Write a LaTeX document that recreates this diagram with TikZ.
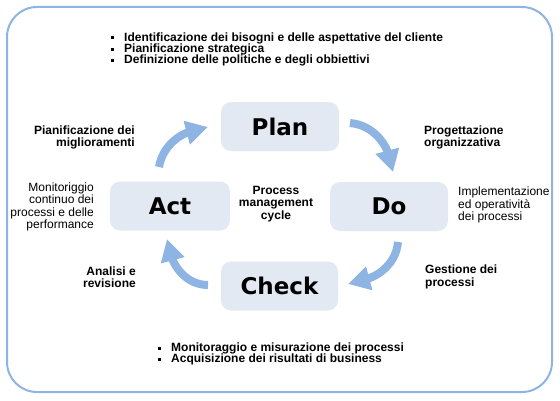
\documentclass[tikz,border=0pt]{standalone}
\usepackage{fontspec}
\setmainfont{Liberation Sans}
\newfontfamily\phasefont{DejaVu Sans}
\usetikzlibrary{arrows.meta}
\definecolor{cycleblue}{HTML}{8DB4E2}
\definecolor{phasefill}{HTML}{E3E9F3}

\begin{document}
\begin{tikzpicture}[x=1pt, y=1pt,
    phase/.style={fill=phasefill, rounded corners=10pt, minimum width=118pt, minimum height=49pt, inner sep=0pt,
        font=\phasefont\bfseries\fontsize{23}{23}\selectfont},
    bold note/.style={font=\bfseries\fontsize{12}{12.3}\selectfont, inner sep=0pt, text height=8.5pt, text depth=2.5pt},
    plain note/.style={font=\fontsize{12}{12.3}\selectfont, inner sep=0pt},
    loop arrow/.style={cycleblue, line width=8pt, -{Triangle[length=22pt, width=23pt]}},
    bullet/.style={fill=black, inner sep=0pt, minimum size=3pt}]
\useasboundingbox (0,0) rectangle (560,400);
% Draw frame
\draw[cycleblue, line width=2pt, rounded corners=30pt] (7,8) rectangle (552,393);
% Draw phases
\node[phase] (plan) at (280,273.5) {Plan};
\node[phase, minimum width=120pt] (act) at (170,194) {Act};
\node[phase] (do) at (389,193.5) {Do};
\node[phase, minimum width=117pt] (check) at (279.5,114) {Check};
% Draw arrows
\coordinate (actout) at (159,233);
\coordinate (planin) at (208,273);
\coordinate (planout) at (350,277);
\coordinate (doin) at (393,228);
\coordinate (doout) at (398,158);
\coordinate (checkin) at (348,116);
\coordinate (checkout) at (208,115);
\coordinate (actin) at (167,161);
\draw[loop arrow] (actout) to[out=80, in=195] (planin);
\draw[loop arrow] (planout) to[out=-5, in=105] (doin);
\draw[loop arrow] (doout) to[out=-95, in=15] (checkin);
\draw[loop arrow] (checkout) to[out=180, in=-75] (actin);
% Draw bullet lists
\foreach \y/\t [count=\i] in {362/Identificazione dei bisogni e delle aspettative del cliente,
    350.5/Pianificazione strategica, 339/Definizione delle politiche e degli obbiettivi} {
    \node[bullet] (planbullet\i) at (112.5,\y) {};
    \node[bold note, anchor=west] (planitem\i) at (124,\y) {\t};
}
\foreach \y/\t [count=\i] in {52/Monitoraggio e misurazione dei processi,
    41/Acquisizione dei risultati di business} {
    \node[bullet] (checkbullet\i) at (159.5,\y) {};
    \node[bold note, anchor=west] (checkitem\i) at (171,\y) {\t};
}
% Draw labels
\node[bold note, text height=, text depth=, align=right, anchor=east] (improve) at (135,262.5) {Pianificazione dei\\miglioramenti};
\node[plain note, align=right, anchor=east] (monitor) at (94,193) {Monitoriggio\\continuo dei\\processi e delle\\performance};
\node[bold note, text height=, text depth=, align=center] (cycle) at (276,196) {Process\\management\\cycle};
\node[bold note, text height=, text depth=, align=left, anchor=west] (design) at (424,262.5) {Progettazione\\organizzativa};
\node[plain note, align=left, anchor=west] (implement) at (458,195) {Implementazione\\ed operatività\\dei processi};
\node[bold note, text height=, text depth=, align=right, anchor=east] (review) at (136,123) {Analisi e\\revisione};
\node[bold note, text height=, text depth=, align=left, anchor=west] (manage) at (425,123) {Gestione dei\\processi};
\end{tikzpicture}
\end{document}
